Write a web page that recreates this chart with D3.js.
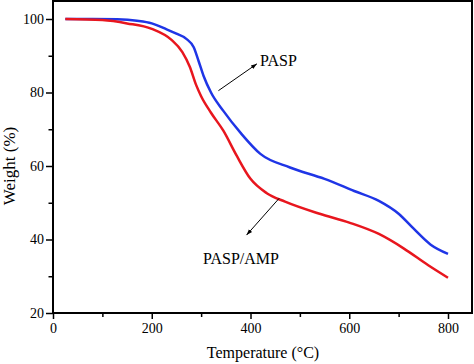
<!DOCTYPE html>
<html>
<head>
<meta charset="utf-8">
<script src="https://cdn.jsdelivr.net/npm/d3@7"></script>
<style>
  body { margin: 0; background: #fff; }
  text { font-family: "Liberation Serif", "DejaVu Serif", serif; fill: #000; }
</style>
</head>
<body>
<div id="chart"></div>
<script>
// temperature (°C) and weight (%)
var pasp = [
  [25, 100], [80, 100], [130, 99.9], [170, 99.5], [200, 98.8], [230, 97.2], [250, 96],
  [270, 94.6], [285, 92.3], [295, 88.5], [305, 84.5], [320, 80], [345, 75],
  [380, 69], [420, 63.3], [480, 59.6], [550, 56.5], [610, 53.2], [660, 50.5],
  [700, 47], [730, 43], [765, 38.6], [800, 36.1]
];
var paspAmp = [
  [25, 100], [100, 99.7], [150, 98.8], [200, 97.3], [240, 94.3], [262, 91],
  [277, 87], [290, 82], [300, 79], [320, 74.5], [345, 69.6], [372, 62.8],
  [400, 56.5], [433, 52.6], [470, 50.3], [540, 47], [600, 44.6], [660, 41.5],
  [710, 37.6], [760, 33], [800, 29.6]
];
var xTicks = [0, 200, 400, 600, 800];
var xMinor = [100, 300, 500, 700];
var yTicks = [20, 40, 60, 80, 100];
var yMinor = [30, 50, 70, 90];

var width = 474, height = 364;
var mLeft = 53, mRight = 472, mTop = 1, mBottom = 313;

var svg = d3.select('#chart').append('svg')
  .attr('width', width)
  .attr('height', height);

var x = d3.scaleLinear().domain([0, 800]).range([mLeft, 448]);
var y = d3.scaleLinear().domain([20, 100]).range([mBottom, 19]);

// frame
svg.append('rect')
  .attr('x', mLeft).attr('y', mTop)
  .attr('width', mRight - mLeft).attr('height', mBottom - mTop)
  .attr('fill', 'none').attr('stroke', '#000').attr('stroke-width', 2);

svg.append('g')
  .attr('transform', 'translate(0,' + mBottom + ')')
  .call(d3.axisBottom(x).tickValues(xTicks).tickSize(6).tickSizeOuter(0).tickPadding(4));
svg.append('g')
  .attr('transform', 'translate(0,' + mBottom + ')')
  .call(d3.axisBottom(x).tickValues(xMinor).tickSize(4).tickFormat(''));

svg.append('g')
  .attr('transform', 'translate(' + mLeft + ',0)')
  .call(d3.axisLeft(y).tickValues(yTicks).tickSize(7).tickSizeOuter(0).tickPadding(2));
svg.append('g')
  .attr('transform', 'translate(' + mLeft + ',0)')
  .call(d3.axisLeft(y).tickValues(yMinor).tickSize(4.5).tickFormat(''));

svg.selectAll('.domain').remove();
svg.selectAll('.tick line').attr('stroke', '#000').attr('stroke-width', 1.5);
svg.selectAll('.tick text')
  .style('font-family', '"Liberation Serif", serif')
  .style('font-size', '14px');

var line = d3.line()
  .x(d => x(d[0]))
  .y(d => y(d[1]))
  .curve(d3.curveMonotoneX);

svg.append('path').datum(pasp)
  .attr('d', line)
  .attr('fill', 'none').attr('stroke', '#1f35e6').attr('stroke-width', 2.5);
svg.append('path').datum(paspAmp)
  .attr('d', line)
  .attr('fill', 'none').attr('stroke', '#e8161e').attr('stroke-width', 2.5);

// axis titles
svg.append('text')
  .attr('x', 263).attr('y', 358)
  .attr('text-anchor', 'middle')
  .style('font-size', '16px')
  .text('Temperature (°C)');
svg.append('text')
  .attr('transform', 'translate(15,166) rotate(-90)')
  .attr('text-anchor', 'middle')
  .style('font-size', '17px')
  .text('Weight (%)');

// annotations with arrows
svg.append('defs').append('marker')
  .attr('id', 'arrow')
  .attr('viewBox', '0 0 10 10')
  .attr('refX', 10).attr('refY', 5)
  .attr('markerWidth', 6).attr('markerHeight', 6)
  .attr('orient', 'auto')
  .append('path')
  .attr('d', 'M0,1.5 L10,5 L0,8.5 Z')
  .attr('fill', '#000');

svg.append('line')
  .attr('x1', x(335)).attr('y1', y(80.5))
  .attr('x2', x(413)).attr('y2', y(87.8))
  .attr('stroke', '#000').attr('stroke-width', 1)
  .attr('marker-end', 'url(#arrow)');
svg.append('text')
  .attr('x', 260).attr('y', 66)
  .style('font-size', '16px')
  .text('PASP');

svg.append('line')
  .attr('x1', x(458)).attr('y1', y(51.2))
  .attr('x2', x(392)).attr('y2', y(41.2))
  .attr('stroke', '#000').attr('stroke-width', 1)
  .attr('marker-end', 'url(#arrow)');
svg.append('text')
  .attr('x', 203).attr('y', 264)
  .style('font-size', '16px')
  .text('PASP/AMP');
</script>
</body>
</html>
